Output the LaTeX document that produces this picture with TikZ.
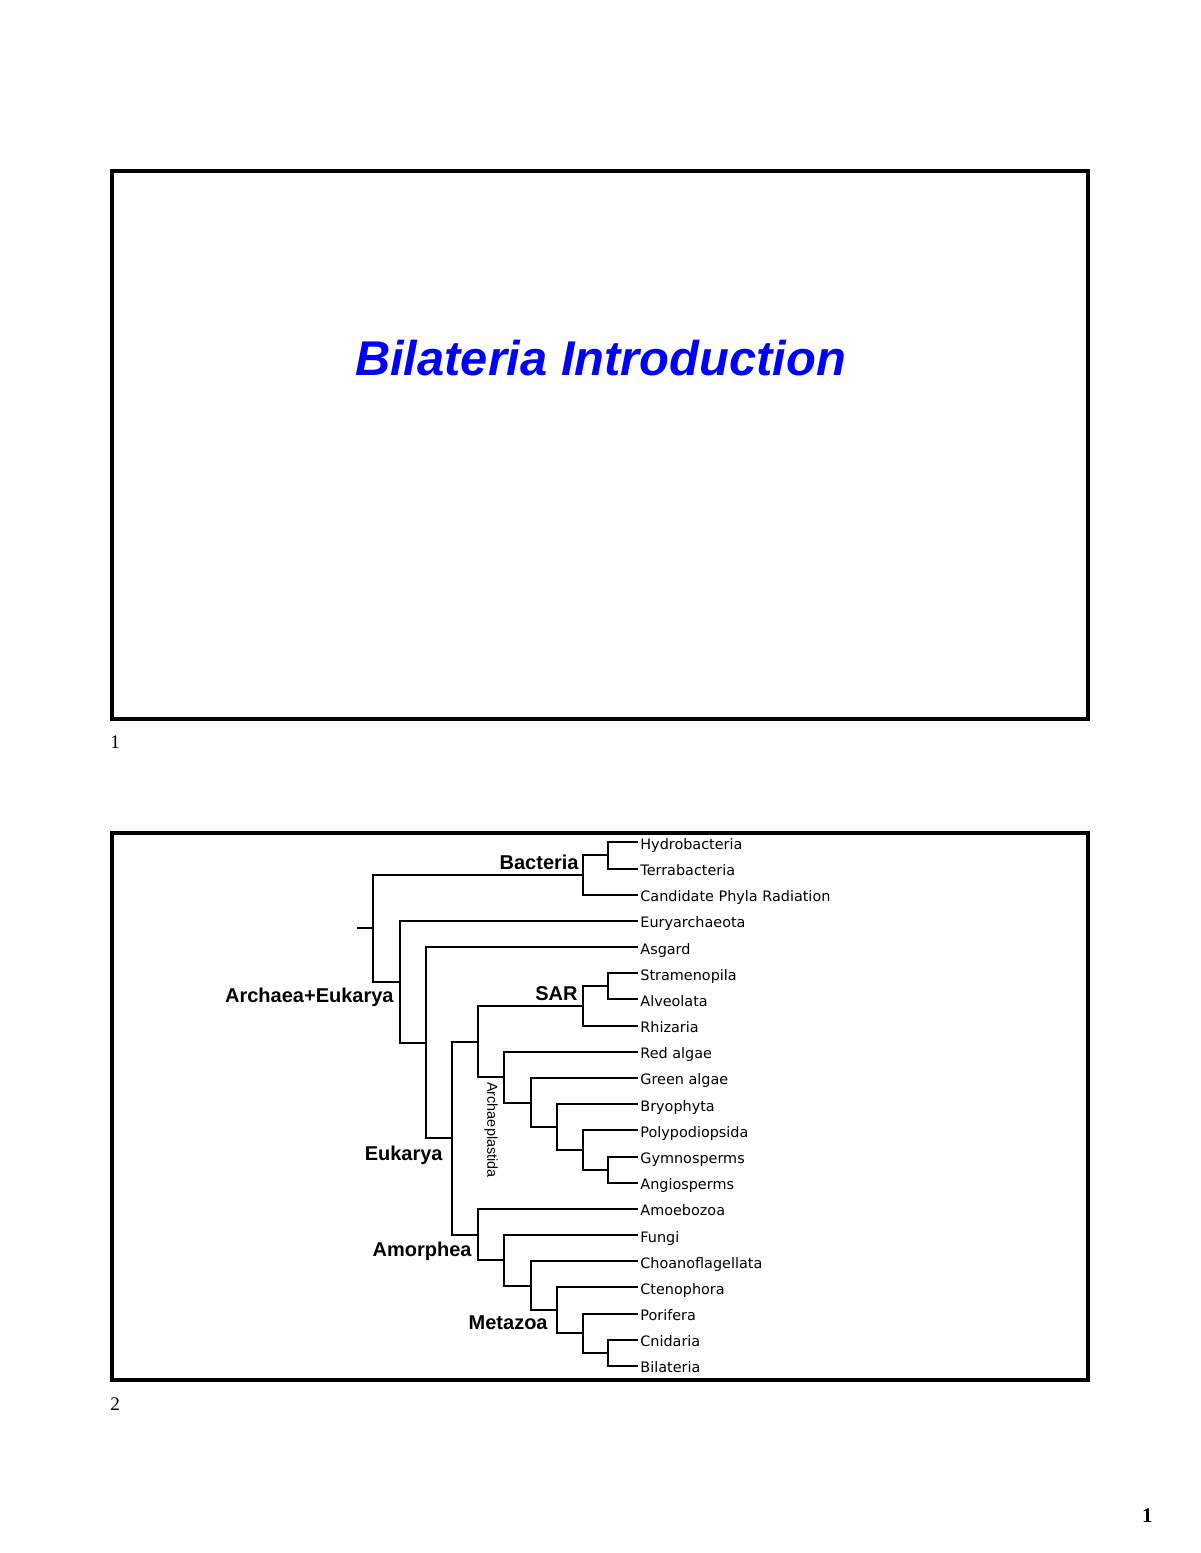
\documentclass[tikz,border=0pt]{standalone}
\usepackage{fontspec}
\usepackage{tikz}
\newfontfamily\leaffont{DejaVu Sans}
\newfontfamily\cladefont{Liberation Sans}
\newfontfamily\numfont{Liberation Serif}
\definecolor{titleblue}{RGB}{0,0,255}
\tikzset{
  frame/.style={line width=2pt},
  branch/.style={line width=1pt},
  leaf/.style={anchor=west,inner xsep=1pt,inner ysep=0pt,text height=7.5pt,text depth=0.5pt,font=\leaffont\fontsize{7.2}{8}\selectfont},
  clade/.style={anchor=base east,inner sep=0pt,font=\cladefont\bfseries\fontsize{10}{12}\selectfont},
}

\begin{document}
\begin{tikzpicture}[x=0.5pt,y=-0.5pt]
\useasboundingbox (0,0) rectangle (1200,1553);
% slide 1
\draw[frame] (111.5,171) rectangle (1088,719);
\node[anchor=base,font=\cladefont\bfseries\itshape\fontsize{24.4}{28}\selectfont,text=titleblue] (title) at (600.5,375) {Bilateria Introduction};
\node[anchor=base west,inner sep=0pt,font=\numfont\fontsize{9.6}{11}\selectfont] (num1) at (110,748) {1};
% slide 2
\draw[frame] (111.5,833) rectangle (1088,1380);
\node[anchor=base west,inner sep=0pt,font=\numfont\fontsize{9.6}{11}\selectfont] (num2) at (110,1410) {2};
\node[anchor=base east,inner sep=0pt,font=\numfont\bfseries\fontsize{10.4}{12}\selectfont] (page) at (1153,1522) {1};

% leaves
\node[leaf] (hyd) at (638,842.3) {Hydrobacteria};
\node[leaf] (ter) at (638,868.5) {Terrabacteria};
\node[leaf] (cpr) at (638,894.7) {Candidate Phyla Radiation};
\node[leaf] (eur) at (638,920.8) {Euryarchaeota};
\node[leaf] (asg) at (638,947.0) {Asgard};
\node[leaf] (str) at (638,973.2) {Stramenopila};
\node[leaf] (alv) at (638,999.4) {Alveolata};
\node[leaf] (rhi) at (638,1025.6) {Rhizaria};
\node[leaf] (red) at (638,1051.7) {Red algae};
\node[leaf] (gre) at (638,1077.9) {Green algae};
\node[leaf] (bry) at (638,1104.1) {Bryophyta};
\node[leaf] (pol) at (638,1130.3) {Polypodiopsida};
\node[leaf] (gym) at (638,1156.5) {Gymnosperms};
\node[leaf] (ang) at (638,1182.6) {Angiosperms};
\node[leaf] (amo) at (638,1208.8) {Amoebozoa};
\node[leaf] (fun) at (638,1235.0) {Fungi};
\node[leaf] (cho) at (638,1261.2) {Choanoflagellata};
\node[leaf] (cte) at (638,1287.4) {Ctenophora};
\node[leaf] (por) at (638,1313.5) {Porifera};
\node[leaf] (cni) at (638,1339.7) {Cnidaria};
\node[leaf] (bil) at (638,1365.9) {Bilateria};

% internal nodes
\coordinate (stub) at (357,928.4);
\coordinate (root) at (373,928.4);
\coordinate (bac) at (583,875.0);
\coordinate (hyter) at (608,855.4);
\coordinate (archeuk) at (400,981.6);
\coordinate (asgeuk) at (426,1042.6);
\coordinate (euk) at (452,1138.1);
\coordinate (diaph) at (478,1041.5);
\coordinate (sar) at (583,1005.9);
\coordinate (stralv) at (608,986.3);
\coordinate (plast) at (504,1077.1);
\coordinate (viri) at (531,1102.5);
\coordinate (land) at (557,1127.0);
\coordinate (vasc) at (583,1149.9);
\coordinate (seed) at (608,1169.6);
\coordinate (amor) at (478,1234.5);
\coordinate (opis) at (504,1260.4);
\coordinate (holo) at (531,1285.8);
\coordinate (meta) at (557,1310.3);
\coordinate (para) at (583,1333.2);
\coordinate (cnbi) at (608,1352.8);

% branches
\begin{scope}[branch]
\draw (stub) -- (root);
\draw (root) |- (bac);
\draw (root) |- (archeuk);
\draw (bac) |- (hyter);
\draw (bac) |- (cpr.west);
\draw (hyter) |- (hyd.west);
\draw (hyter) |- (ter.west);
\draw (archeuk) |- (eur.west);
\draw (archeuk) |- (asgeuk);
\draw (asgeuk) |- (asg.west);
\draw (asgeuk) |- (euk);
\draw (euk) |- (diaph);
\draw (euk) |- (amor);
\draw (diaph) |- (sar);
\draw (diaph) |- (plast);
\draw (sar) |- (stralv);
\draw (sar) |- (rhi.west);
\draw (stralv) |- (str.west);
\draw (stralv) |- (alv.west);
\draw (plast) |- (red.west);
\draw (plast) |- (viri);
\draw (viri) |- (gre.west);
\draw (viri) |- (land);
\draw (land) |- (bry.west);
\draw (land) |- (vasc);
\draw (vasc) |- (pol.west);
\draw (vasc) |- (seed);
\draw (seed) |- (gym.west);
\draw (seed) |- (ang.west);
\draw (amor) |- (amo.west);
\draw (amor) |- (opis);
\draw (opis) |- (fun.west);
\draw (opis) |- (holo);
\draw (holo) |- (cho.west);
\draw (holo) |- (meta);
\draw (meta) |- (cte.west);
\draw (meta) |- (para);
\draw (para) |- (por.west);
\draw (para) |- (cnbi);
\draw (cnbi) |- (cni.west);
\draw (cnbi) |- (bil.west);
\end{scope}

% clade names
\node[clade] (lbac) at (579,869) {Bacteria};
\node[clade] (lae) at (394,1002.5) {Archaea+Eukarya};
\node[clade] (lsar) at (578,1000) {SAR};
\node[clade] (leuk) at (443,1160.5) {Eukarya};
\node[clade] (lamor) at (472,1256.5) {Amorphea};
\node[clade] (lmeta) at (548,1329) {Metazoa};
\node[rotate=-90,inner sep=0pt,font=\cladefont\fontsize{7.2}{8}\selectfont] (lplast) at (491,1130) {Archaeplastida};
\end{tikzpicture}
\end{document}
